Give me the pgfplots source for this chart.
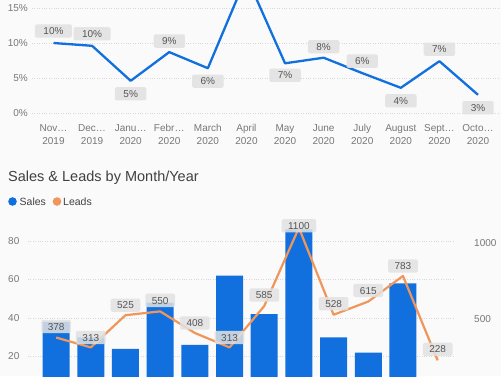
\documentclass[border=0pt]{standalone}
\usepackage{fontspec}
\setmainfont{Liberation Sans}
\usepackage{pgfplots}
\usepackage{pgfplotstable}
\pgfplotsset{compat=1.18}
\pgfkeys{/pgf/number format/assume math mode=true}
\definecolor{bg}{HTML}{FAFAFA}
\definecolor{pbblue}{HTML}{1170DE}
\definecolor{pborange}{HTML}{F0965A}
\definecolor{lblbox}{HTML}{E2E2E2}
\definecolor{lbltext}{HTML}{555555}
\definecolor{tickc}{HTML}{777777}
\definecolor{titlec}{HTML}{404040}
\definecolor{gridc}{HTML}{D8D8D8}

\pgfplotstableread{
x pct off
0 10.0 12
1 9.6 12
2 4.6 -13
3 8.7 11
4 6.4 -13
5 19.5 12
6 7.1 -12
7 7.9 11
8 5.7 12
9 3.6 -13
10 7.4 12
11 2.6 -13
}\ratetable

\pgfplotstableread{
x sales leads off
0 38 378 11
1 30 313 10
2 24 525 10
3 48 550 11
4 26 408 10
5 62 313 10
6 42 585 11
7 86 1100 2
8 30 528 11
9 22 615 11
10 58 783 10
11 6 228 11
}\salestable

\begin{document}
\begin{tikzpicture}
\useasboundingbox (0pt,0pt) rectangle (501pt,-376pt);
\clip (0pt,0pt) rectangle (501pt,-376pt);
\fill[bg] (0pt,0pt) rectangle (501pt,-376pt);

% ---------- top chart ----------
\begin{axis}[
  at={(32pt,-113pt)}, anchor=south west, scale only axis,
  width=468pt, height=105pt,
  xmin=-0.557, xmax=11.57, ymin=0, ymax=15,
  clip=false,
  axis line style={draw=none},
  major tick length=0pt,
  ytick={0,5,10,15},
  yticklabels={0\%,5\%,10\%,15\%},
  ymajorgrids,
  major grid style={gridc, dotted, line width=0.9pt},
  xtick={0,...,11},
  xticklabels={{Nov…\\2019},{Dec…\\2019},{Janu…\\2020},{Febr…\\2020},{March\\2020},{April\\2020},{May\\2020},{June\\2020},{July\\2020},{August\\2020},{Sept…\\2020},{Octo…\\2020}},
  xticklabel style={align=center, font=\fontsize{10}{12.8}\selectfont, text=tickc, inner sep=0pt, anchor=north, yshift=-11.5pt},
  yticklabel style={font=\fontsize{10}{12}\selectfont, text=tickc, inner sep=0pt, anchor=east, xshift=-4pt},
]
\addplot[pbblue, line width=2.3pt, mark=none, line join=round] table[x=x,y=pct]{\ratetable};
\addplot[draw=none, mark=none,
  point meta=y,
  skip coords between index={5}{6},
  visualization depends on={\thisrow{off} \as \off},
  nodes near coords={\pgfmathprintnumber[fixed,precision=0]{\pgfplotspointmeta}\%},
  every node near coord/.append style={anchor=center, yshift=\off pt, fill=lblbox, fill opacity=0.9, text opacity=1, text=lbltext, rounded corners=1.5pt, font=\fontsize{10}{12}\selectfont, inner xsep=8.5pt, inner ysep=3pt, text height=7.3pt, text depth=0pt}
] table[x=x,y=pct]{\ratetable};
\end{axis}

% ---------- title and legend ----------
\node[anchor=base west, inner sep=0pt, text=titlec, font=\fontsize{14.5}{16}\selectfont] at (8pt,-181pt) {Sales \& Leads by Month/Year};
\fill[pbblue] (12.5pt,-201.5pt) circle (4.3pt);
\node[anchor=base west, inner sep=0pt, text=titlec, font=\fontsize{10.5}{12}\selectfont] at (19.5pt,-205pt) {Sales};
\fill[pborange] (57pt,-201.5pt) circle (4.3pt);
\node[anchor=base west, inner sep=0pt, text=titlec, font=\fontsize{10.5}{12}\selectfont] at (63pt,-205pt) {Leads};

% ---------- bottom chart: bars ----------
\begin{axis}[
  at={(28pt,-395pt)}, anchor=south west, scale only axis,
  width=427pt, height=154pt,
  xmin=-0.81, xmax=11.5, ymin=0, ymax=80,
  clip=false,
  axis line style={draw=none},
  major tick length=0pt,
  xtick=\empty,
  ytick={20,40,60,80},
  ymajorgrids,
  major grid style={gridc, dotted, line width=0.9pt},
  yticklabel style={font=\fontsize{10}{12}\selectfont, text=tickc, inner sep=0pt, anchor=west, xshift=-20pt},
]
\addplot[ybar, bar width=27pt, fill=pbblue, draw=none] table[x=x,y=sales]{\salestable};
\end{axis}

% ---------- bottom chart: leads ----------
\begin{axis}[
  at={(28pt,-395pt)}, anchor=south west, scale only axis,
  width=427pt, height=154pt,
  xmin=-0.81, xmax=11.5, ymin=0, ymax=1013,
  clip=false,
  axis line style={draw=none},
  major tick length=0pt,
  xtick=\empty,
  ytick={500,1000},
  yticklabel pos=right,
  /pgf/number format/1000 sep={},
  yticklabel style={font=\fontsize{10}{12}\selectfont, text=tickc, inner sep=0pt, anchor=west, xshift=19pt},
]
\addplot[pborange, line width=2.2pt, mark=none, line join=round] table[x=x,y=leads]{\salestable};
\addplot[draw=none, mark=none,
  point meta=explicit symbolic,
  visualization depends on={\thisrow{off} \as \off},
  nodes near coords,
  every node near coord/.append style={anchor=center, yshift=\off pt, fill=lblbox, fill opacity=0.85, text opacity=1, text=lbltext, rounded corners=1.5pt, font=\fontsize{10}{12}\selectfont, inner xsep=6.5pt, inner ysep=3pt, text height=7.3pt, text depth=0pt}
] table[x=x,y=leads,meta=leads]{\salestable};
\end{axis}
\end{tikzpicture}
\end{document}
